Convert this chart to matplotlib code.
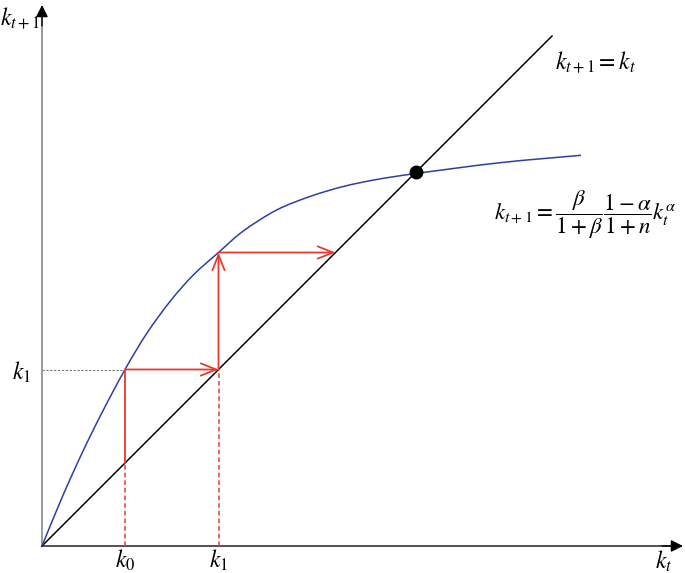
import matplotlib
matplotlib.use("Agg")
import matplotlib.pyplot as plt
from matplotlib.path import Path
from matplotlib.patches import PathPatch

plt.rcParams['mathtext.fontset'] = 'stix'

# Curve k_{t+1} = f(k_t)
curve_x = [0.0, 0.2, 0.4, 0.6, 0.83, 1.047, 1.28, 1.513, 1.765, 2.013, 2.347, 2.68, 3.013, 3.347, 3.74, 4.58, 5.39]
curve_y = [0.0, 0.484, 0.928, 1.334, 1.765, 2.125, 2.445, 2.71, 2.935, 3.15, 3.36, 3.495, 3.595, 3.665, 3.725, 3.833, 3.907]

# 45-degree line
diag_x = [0.0, 5.10]
diag_y = [0.0, 5.10]

# dynamics values
k0 = 0.83
k1 = 1.765
k2 = 2.935
k_star = 3.74

RED = '#e8392f'
BLUE = '#2e3fa6'


def smooth_path(xs, ys):
    """Catmull-Rom through the read points, drawn as cubic Bezier segments."""
    pts = list(zip(xs, ys))
    verts = [pts[0]]
    codes = [Path.MOVETO]
    n = len(pts)
    for i in range(n - 1):
        p0 = pts[i - 1] if i > 0 else pts[i]
        p1 = pts[i]
        p2 = pts[i + 1]
        p3 = pts[i + 2] if i + 2 < n else pts[i + 1]
        c1 = (p1[0] + (p2[0] - p0[0]) / 6.0, p1[1] + (p2[1] - p0[1]) / 6.0)
        c2 = (p2[0] - (p3[0] - p1[0]) / 6.0, p2[1] - (p3[1] - p1[1]) / 6.0)
        verts += [c1, c2, p2]
        codes += [Path.CURVE4] * 3
    return Path(verts, codes)


fig = plt.figure(figsize=(6.85, 5.73), dpi=100)
ax = fig.add_axes([0, 0, 1, 1])
ax.set_xlim(-0.42, 6.43)
ax.set_ylim(-0.27, 5.46)
ax.axis('off')

# axes with arrows
ax.plot([0, 0], [0, 5.3], color='#8a8a8a', lw=1.2, zorder=1)
ax.annotate('', xy=(0, 5.41), xytext=(0, 5.2),
            arrowprops=dict(arrowstyle='-|>', color='black', lw=1.0,
                            mutation_scale=18, shrinkA=0, shrinkB=0))
ax.plot([0, 6.3], [0, 0], color='#333333', lw=1.2, zorder=1)
ax.annotate('', xy=(6.41, 0), xytext=(6.2, 0),
            arrowprops=dict(arrowstyle='-|>', color='black', lw=1.0,
                            mutation_scale=18, shrinkA=0, shrinkB=0))

# 45-degree line and curve
ax.plot(diag_x, diag_y, color='black', lw=1.1, zorder=2)
ax.add_patch(PathPatch(smooth_path(curve_x, curve_y), facecolor='none',
                       edgecolor=BLUE, lw=1.1, zorder=2))

# guide lines
ax.plot([0, k0], [k1, k1], color='#777777', lw=0.8, ls=(0, (2, 1.5)), zorder=1)
ax.plot([k0, k0], [0, k0], color=RED, lw=1.1, ls=(0, (3, 2)), zorder=3)
ax.plot([k1, k1], [0, k1], color=RED, lw=1.1, ls=(0, (3, 2)), zorder=3)

# cobweb
ax.plot([k0, k0], [k0, k1], color=RED, lw=1.3, zorder=3)
arrow_kw = dict(arrowstyle='->,head_length=0.55,head_width=0.22', color=RED, lw=1.3,
                mutation_scale=20, shrinkA=0, shrinkB=0)
ax.annotate('', xy=(k1, k1), xytext=(k0, k1), arrowprops=arrow_kw, zorder=3)
ax.annotate('', xy=(k1, k2), xytext=(k1, k1), arrowprops=arrow_kw, zorder=3)
ax.annotate('', xy=(k2, k2), xytext=(k1, k2), arrowprops=arrow_kw, zorder=3)

# steady state
ax.plot([k_star], [k_star], 'o', color='black', ms=9, zorder=4)

fs = 17
ax.text(-0.22, 5.28, r'$k_{t+1}$', fontsize=fs, ha='center', va='center')
ax.text(-0.2, 1.74, r'$k_1$', fontsize=fs, ha='center', va='center')
ax.text(k0, -0.145, r'$k_0$', fontsize=fs, ha='center', va='center')
ax.text(k1, -0.145, r'$k_1$', fontsize=fs, ha='center', va='center')
ax.text(6.22, -0.15, r'$k_t$', fontsize=fs, ha='center', va='center')
ax.text(5.13, 4.84, r'$k_{t+1} = k_t$', fontsize=fs, ha='left', va='center')
ax.text(4.52, 3.31, r'$k_{t+1} = \dfrac{\beta}{1+\beta}\dfrac{1-\alpha}{1+n}k_t^{\alpha}$',
        fontsize=16.5, ha='left', va='center')

fig.savefig('out.png', dpi=100)
